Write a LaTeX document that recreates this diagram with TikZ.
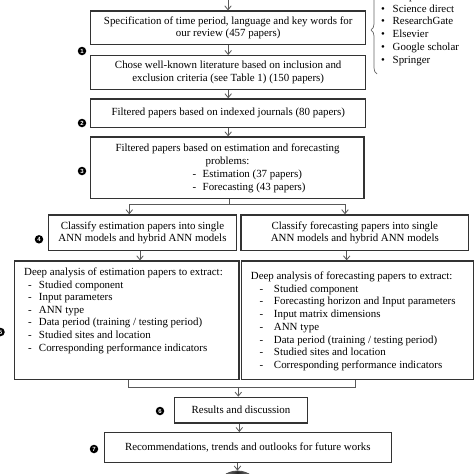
\documentclass[tikz,border=0pt]{standalone}
\usepackage{fontspec}
\setmainfont{Liberation Serif}
\newfontfamily\numfont{Liberation Sans}
\usetikzlibrary{arrows.meta,shapes.geometric,decorations.pathreplacing,calc}
\begin{document}
\begin{tikzpicture}[x=1pt,y=-1pt,
  font=\fontsize{10.9}{12.7}\selectfont,
  box/.style={draw=black!80, line width=1.3pt, inner sep=0pt, align=center},
  txt/.style={inner sep=0pt, align=left},
  conn/.style={draw=black!65, line width=0.8pt},
  arr/.style={conn, -{Straight Barb[length=4pt,width=6.5pt,line width=0.8pt]}},
  num/.style={circle, fill=black, text=white, inner sep=0pt, minimum size=8.5pt, font=\numfont\bfseries\fontsize{6}{6}\selectfont}]
\clip (0,0) rectangle (474,474);
\fill[white] (0,0) rectangle (474,474);

% main boxes
\node[box, minimum width=275pt, minimum height=33.3pt] (b1) at (228.2,27.7)
  {Specification of time period, language and key words for\\our review (457 papers)};
\node[box, minimum width=275pt, minimum height=33.6pt] (b2) at (228.2,72.5)
  {Chose well-known literature based on inclusion and\\exclusion criteria (see Table 1) (150 papers)};
\node[box, minimum width=275pt, minimum height=28.7pt] (b3) at (228.2,113.3)
  {Filtered papers based on indexed journals (80 papers)};
\node[box, minimum width=273.3pt, minimum height=61.3pt] (b4) at (227.3,167.7) {};
\node[inner sep=0pt, align=center] (b4t) at (227.5,155)
  {Filtered papers based on estimation and forecasting\\problems:};
\node[txt, anchor=north west] (b4l) at (192.5,169.8)
  {\makebox[10pt][l]{-}Estimation (37 papers)\\\makebox[10pt][l]{-}Forecasting (43 papers)};

\node[box, minimum width=188.4pt, minimum height=35.7pt] (b5) at (142.5,232.8)
  {Classify estimation papers into single\\ANN models and hybrid ANN models};
\node[box, minimum width=227.7pt, minimum height=35.7pt] (b6) at (354.8,232.8)
  {Classify forecasting papers into single\\ANN models and hybrid ANN models};

\node[box, minimum width=224.7pt, minimum height=118.3pt] (b7) at (126.7,320.2) {};
\node[txt, anchor=north west, font=\fontsize{10.9}{12.55}\selectfont] (b7t) at (24,267.9)
  {Deep analysis of estimation papers to extract:\\
   \hspace*{3.8pt}\makebox[11pt][l]{-}Studied component\\
   \hspace*{3.8pt}\makebox[11pt][l]{-}Input parameters\\
   \hspace*{3.8pt}\makebox[11pt][l]{-}ANN type\\
   \hspace*{3.8pt}\makebox[11pt][l]{-}Data period (training / testing period)\\
   \hspace*{3.8pt}\makebox[11pt][l]{-}Studied sites and location\\
   \hspace*{3.8pt}\makebox[11pt][l]{-}Corresponding performance indicators};

\node[box, minimum width=232pt, minimum height=118.3pt] (b8) at (357.3,320.2) {};
\node[txt, anchor=north west, font=\fontsize{10.9}{12.75}\selectfont] (b8t) at (250.7,271.5)
  {Deep analysis of forecasting papers to extract:\\
   \hspace*{8.8pt}\makebox[14.3pt][l]{-}Studied component\\
   \hspace*{8.8pt}\makebox[14.3pt][l]{-}Forecasting horizon and Input parameters\\
   \hspace*{8.8pt}\makebox[14.3pt][l]{-}Input matrix dimensions\\
   \hspace*{8.8pt}\makebox[14.3pt][l]{-}ANN type\\
   \hspace*{8.8pt}\makebox[14.3pt][l]{-}Data period (training / testing period)\\
   \hspace*{8.8pt}\makebox[14.3pt][l]{-}Studied sites and location\\
   \hspace*{8.8pt}\makebox[14.3pt][l]{-}Corresponding performance indicators};

\node[box, minimum width=133.4pt, minimum height=25.7pt] (b9) at (241,410.2)
  {Results and discussion};
\node[box, minimum width=287pt, minimum height=29.6pt] (b10) at (247.8,447.5)
  {Recommendations, trends and outlooks for future works};

\node[ellipse, draw=black!70, line width=0.8pt, minimum width=39pt, minimum height=32pt,
  left color=black!35, right color=black!35, middle color=black!85] (endshape) at (237.5,487) {};

% sources list and brace
\node[txt, anchor=north west, font=\fontsize{10.9}{12.8}\selectfont] (src) at (381,-8.2)
  {\makebox[11.5pt][l]{•}Scopus\\
   \makebox[11.5pt][l]{•}Science direct\\
   \makebox[11.5pt][l]{•}ResearchGate\\
   \makebox[11.5pt][l]{•}Elsevier\\
   \makebox[11.5pt][l]{•}Google scholar\\
   \makebox[11.5pt][l]{•}Springer};
\coordinate (brb) at (377,74);
\coordinate (brt) at (377,-14);
\draw[draw=black!60, line width=0.7pt, decorate, decoration={brace, amplitude=6pt}] (brb) -- (brt);

% numbers
\node[num] (n1) at (82,51) {1};
\node[num] (n2) at (82,123) {2};
\node[num] (n3) at (82,171) {3};
\node[num] (n4) at (39,239.3) {4};
\node[num] (n5) at (0.5,332) {5};
\node[num] (n6) at (160,411) {6};
\node[num] (n7) at (94,449) {7};

% connectors
\coordinate (top) at (228,0);
\draw[arr] (top) -- (top |- b1.north);
\draw[arr] (b1) -- (b2);
\draw[arr] (b2) -- (b3);
\draw[arr] (b3.south) -- (b3.south |- b4.north);
\coordinate (sl) at (129.3,204);
\coordinate (sr) at (345,204);
\draw[conn] ([xshift=2pt]b4.south) -- ([xshift=2pt]b4.south |- sl);
\draw[conn] (sl) -- (sr);
\draw[arr] (sl) -- (sl |- b5.north);
\draw[arr] (sr) -- (sr |- b6.north);
\draw[arr] ([xshift=-2.5pt]b5.south) -- ([xshift=-2.5pt]b5.south |- b7.north);
\draw[arr] ([xshift=-8.1pt]b6.south) -- ([xshift=-8.1pt]b6.south |- b8.north);
\coordinate (jl) at (128.3,387.3);
\coordinate (jr) at (355,387.3);
\coordinate (jm) at (238.3,387.3);
\draw[conn] (b7.south -| jl) -- (jl) -- (jr) -- (b8.south -| jr);
\draw[arr] (jm) -- (jm |- b9.north);
\draw[arr] ([xshift=-1.7pt]b9.south) -- ([xshift=-1.7pt]b9.south |- b10.north);
\draw[arr] (b10.south -| endshape.north) -- (endshape.north);
\end{tikzpicture}
\end{document}
